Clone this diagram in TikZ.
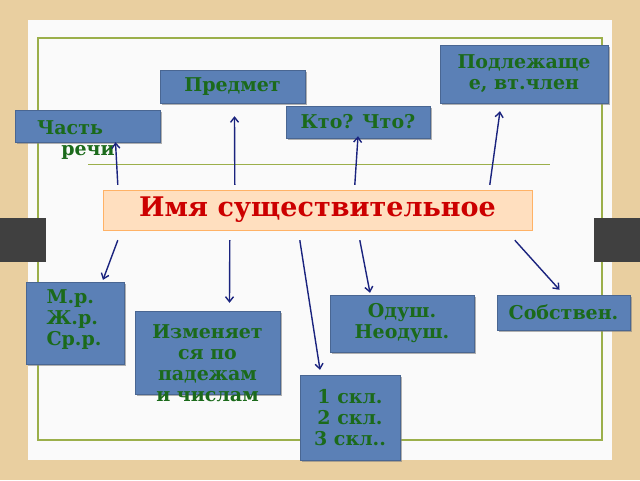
\documentclass[tikz,border=0pt]{standalone}
\usepackage{fontspec}
\setmainfont{DejaVu Serif}
\usetikzlibrary{shadows,arrows.meta}
\definecolor{boxblue}{HTML}{5B80B6}
\definecolor{txtgreen}{HTML}{1B6A1B}
\definecolor{navy}{HTML}{1A237E}
\definecolor{olive}{HTML}{9BAF4A}
\definecolor{cream}{HTML}{E9CFA0}
\begin{document}
\begin{tikzpicture}[x=1pt,y=-1pt,
            box/.style={draw=boxblue!80!black,fill=boxblue,inner sep=0pt,
                drop shadow={shadow xshift=2pt,shadow yshift=-2pt,opacity=.6}},
            lbl/.style={text=txtgreen,font=\bfseries\fontsize{19}{21}\selectfont,
                align=center,inner sep=0pt},
            arr/.style={draw=navy,line width=1.4pt,-{Straight Barb[length=5pt,width=8pt]}},
            ]
    \useasboundingbox (0,0) rectangle (640,480);
    \fill[cream] (0,0) rectangle (640,480);
    \fill[white!96!gray] (28,20) rectangle (612,460);
    \draw[olive,line width=1.5pt] (38,38) rectangle (602,440);
    \fill[black!75] (0,218) rectangle (46,262);
    \fill[black!75] (594,218) rectangle (640,262);
    \draw[olive,line width=1pt] (88,164) -- (550,164);

    % central node
    \node[draw=orange!60,fill=orange!25,minimum width=429pt,minimum height=40pt,
          text=red!80!black,font=\bfseries\fontsize{27}{29}\selectfont]
          (noun) at (317.5,210) {Имя существительное};

    % top row
    \node[box,minimum width=145pt,minimum height=32pt] (part) at (87.5,126) {};
    \node[lbl] at (70,128) {Часть};
    \node[lbl] at (88,152) {речи};
    \node[box,minimum width=145pt,minimum height=33pt] (obj) at (232.5,86.5) {};
    \node[lbl] at (obj) {Предмет};
    \node[box,minimum width=144pt,minimum height=32pt] (ask) at (358,122) {};
    \node[lbl] at (ask) {Кто? Что?};
    \node[box,minimum width=168pt,minimum height=58pt] (subj) at (524,74) {};
    \node[lbl] at (subj) {Подлежаще\\е, вт.член};

    % bottom row
    \node[box,minimum width=98pt,minimum height=82pt] (gen) at (75,323) {};
    \node[lbl,align=left] at (74,320) {М.р.\\Ж.р.\\Ср.р.};
    \node[box,minimum width=145pt,minimum height=83pt] (chg) at (207.5,352.5) {};
    \node[lbl] at (207.5,363) {Изменяет\\ся по\\падежам\\и числам};
    \node[box,minimum width=144pt,minimum height=57pt] (anim) at (402,323.5) {};
    \node[lbl] at (anim) {Одуш.\\Неодуш.};
    \node[box,minimum width=133pt,minimum height=35pt] (prop) at (563.5,312.5) {};
    \node[lbl] at (prop) {Собствен.};
    \node[box,minimum width=100pt,minimum height=85pt] (decl) at (350,417.5) {};
    \node[lbl] at (decl) {1 скл.\\2 скл.\\3 скл..};

    % arrows up
    \draw[arr] ([shift={(15,-5)}]noun.north west) -- ([xshift=28pt]part.south);
    \draw[arr] ([shift={(132,-5)}]noun.north west) -- ([shift={(2,13)}]obj.south);
    \draw[arr] ([shift={(252,-5)}]noun.north west) -- ([yshift=2pt]ask.south);
    \draw[arr] ([shift={(387,-5)}]noun.north west) -- ([shift={(-24,8)}]subj.south);
    % arrows down
    \draw[arr] ([shift={(15,10)}]noun.south west) -- ([shift={(28,-2)}]gen.north);
    \draw[arr] ([shift={(127,10)}]noun.south west) -- ([shift={(22,-8)}]chg.north);
    \draw[arr] ([shift={(197,10)}]noun.south west) -- ([shift={(-30,-5)}]decl.north);
    \draw[arr] ([shift={(257,10)}]noun.south west) -- ([shift={(-32,-2)}]anim.north);
    \draw[arr] ([shift={(412,10)}]noun.south west) -- ([shift={(-4,-5)}]prop.north);
\end{tikzpicture}
\end{document}
